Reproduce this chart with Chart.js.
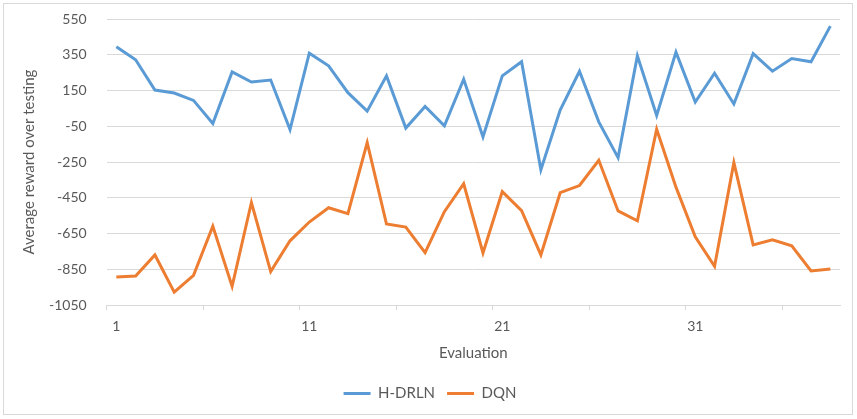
<!DOCTYPE html>
<html>
<head>
<meta charset="utf-8">
<script src="https://cdn.jsdelivr.net/npm/chart.js@4/dist/chart.umd.min.js"></script>
<style>
    html, body { margin: 0; padding: 0; background: #fff; }
    #wrap { position: relative; width: 857px; height: 419px; }
    #frame { position: absolute; left: 3px; top: 3px; width: 848px; height: 410px; border: 1px solid #d9d9d9; pointer-events: none; }
</style>
</head>
<body>
<div id="wrap">
    <canvas id="rewardChart" width="857" height="419"></canvas>
    <div id="frame"></div>
</div>
<script>
// Номера оценок 1..38
const evaluations = ['1','2','3','4','5','6','7','8','9','10','11','12','13','14','15','16','17','18','19','20',
    '21','22','23','24','25','26','27','28','29','30','31','32','33','34','35','36','37','38'];

// H-DRLN (синяя линия)
const hdrlnValues = [395, 322, 153, 136, 95, -34, 254, 198, 209, -68, 359, 288, 138, 35, 232, -60, 61, -47, 213, -109,
    232, 311, -293, 41, 258, -25, -225, 344, 11, 365, 86, 247, 75, 356, 258, 329, 311, 510];

// DQN (оранжевая линия)
const dqnValues = [-892, -887, -769, -977, -883, -608, -945, -476, -862, -690, -585, -505, -538, -141, -596, -613, -756, -527, -371, -758,
    -415, -521, -769, -421, -381, -240, -523, -578, -66, -390, -668, -832, -253, -713, -684, -718, -859, -847];

// Подписи оси Y
const yTicks = [550, 350, 150, -50, -250, -450, -650, -850, -1050];

const textColor = '#595959';
const gridColor = '#d9d9d9';
const fontFamily = 'Lato, "Open Sans", sans-serif';

document.addEventListener('DOMContentLoaded', () => {
    const ctx = document.getElementById('rewardChart').getContext('2d');

    new Chart(ctx, {
        type: 'line',
        data: {
            labels: evaluations,
            datasets: [
                {
                    label: 'H-DRLN',
                    data: hdrlnValues,
                    borderColor: '#5B9BD5',
                    backgroundColor: '#5B9BD5',
                    borderWidth: 3,
                    pointRadius: 0,
                    tension: 0
                },
                {
                    label: 'DQN',
                    data: dqnValues,
                    borderColor: '#ED7D31',
                    backgroundColor: '#ED7D31',
                    borderWidth: 3,
                    pointRadius: 0,
                    tension: 0
                }
            ]
        },
        options: {
            responsive: false,
            animation: false,
            devicePixelRatio: 1,
            layout: {
                padding: { top: 19, right: 17, bottom: 8, left: 20 }
            },
            plugins: {
                tooltip: { enabled: false },
                legend: {
                    position: 'bottom',
                    labels: {
                        usePointStyle: true,
                        pointStyle: 'line',
                        pointStyleWidth: 27,
                        boxHeight: 14,
                        padding: 12,
                        color: textColor,
                        font: { family: fontFamily, size: 15 }
                    }
                }
            },
            scales: {
                x: {
                    offset: true,
                    grid: {
                        offset: true,
                        drawOnChartArea: false,
                        tickLength: 5,
                        color: (c) => (c.index % 5 === 0 ? gridColor : 'rgba(0,0,0,0)')
                    },
                    border: { color: gridColor },
                    ticks: {
                        autoSkip: false,
                        maxRotation: 0,
                        padding: 8,
                        color: textColor,
                        font: { family: fontFamily, size: 14 },
                        callback: function (value, index) {
                            return index % 10 === 0 ? this.getLabelForValue(value) : '';
                        }
                    },
                    title: {
                        display: true,
                        text: 'Evaluation',
                        color: textColor,
                        font: { family: fontFamily, size: 15 },
                        padding: { top: 1, bottom: 12 }
                    }
                },
                y: {
                    min: -1050,
                    max: 550,
                    grid: {
                        color: gridColor,
                        drawTicks: true,
                        tickLength: 15,
                        tickColor: 'rgba(0,0,0,0)'
                    },
                    border: { display: false },
                    afterBuildTicks: (axis) => {
                        axis.ticks = yTicks.map(v => ({ value: v }));
                    },
                    ticks: {
                        padding: 5,
                        color: textColor,
                        font: { family: fontFamily, size: 14 },
                        callback: (value) => String(value)
                    },
                    title: {
                        display: true,
                        text: 'Average reward over testing',
                        color: textColor,
                        font: { family: fontFamily, size: 15 },
                        padding: { top: 0, bottom: 6 }
                    }
                }
            }
        }
    });
});
</script>
</body>
</html>
